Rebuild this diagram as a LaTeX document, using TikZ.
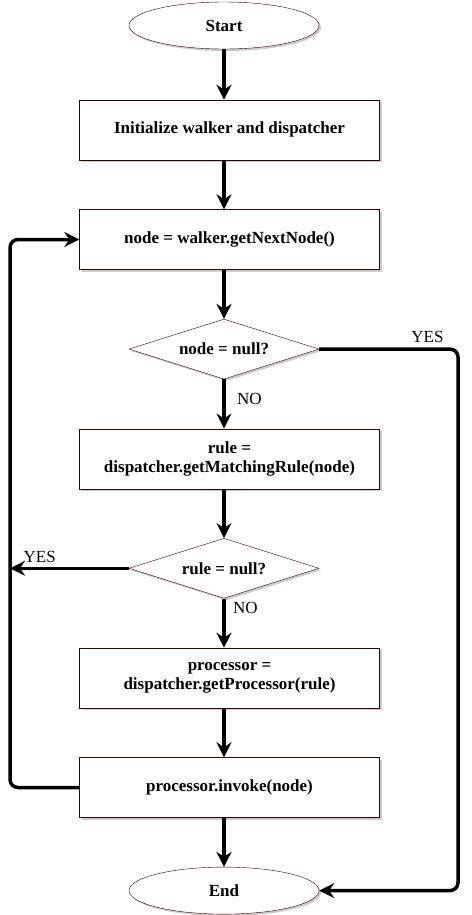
\documentclass[tikz,border=0pt]{standalone}
\usepackage{fontspec}
\setmainfont{Liberation Serif}
\usepackage{tikz}
\usetikzlibrary{positioning, arrows.meta, shapes.geometric, shadows}
\definecolor{edgeline}{RGB}{51,0,0}

\begin{document}
\begin{tikzpicture}[
    x=1pt, y=-1pt,
    shade/.style={drop shadow={shadow xshift=2pt, shadow yshift=-2pt, opacity=0.2, fill=black}},
    terminal/.style={ellipse, draw=edgeline, fill=white, shade, minimum width=190pt, minimum height=47pt, inner sep=0pt, font=\fontsize{17}{19}\selectfont\bfseries},
    process/.style={rectangle, draw=edgeline, fill=white, shade, minimum width=300pt, minimum height=60pt, align=center, font=\fontsize{17}{19}\selectfont\bfseries},
    decision/.style={diamond, aspect=3.2, draw=edgeline, fill=white, shade, minimum width=190pt, minimum height=60pt, inner sep=0pt, font=\fontsize{17}{19}\selectfont\bfseries},
    arrow/.style={-{Stealth[length=15pt, width=15pt, inset=5pt]}, line width=3.5pt, rounded corners=8pt},
    answer/.style={font=\fontsize{17}{19}\selectfont}
]
\useasboundingbox (0,0) rectangle (471,915);

% ===== main column =====
\node[terminal] (start) at (224,25.5) {Start};
\node[process, below=50.5pt of start, xshift=5.5pt] (init) {Initialize walker and dispatcher};
\node[process, below=49.2pt of init] (getnext) {node = walker.getNextNode()};
\node[decision, below=49.2pt of getnext, xshift=-5.5pt] (nodenull) {node = null?};
\node[process, below=49.2pt of nodenull, xshift=5.5pt] (getrule) {rule =\\dispatcher.getMatchingRule(node)};
\node[decision, below=49.2pt of getrule, xshift=-5.5pt] (rulenull) {rule = null?};
\node[process, below=49.2pt of rulenull, xshift=5.5pt] (getproc) {processor =\\dispatcher.getProcessor(rule)};
\node[process, below=49.2pt of getproc] (invoke) {processor.invoke(node)};
\node[terminal, below=49.2pt of invoke, xshift=-5.5pt] (end) {End};

% rails for the side paths
\coordinate (leftrail) at (10,0);
\coordinate (rightrail) at (458,0);

% ===== arrows =====
\draw[arrow] (start) -- (start |- init.north);
\draw[arrow] (start |- init.south) -- (start |- getnext.north);
\draw[arrow] (nodenull |- getnext.south) -- (nodenull);
\draw[arrow] (nodenull) -- node[answer, right=8pt, pos=0.4] {NO} (nodenull |- getrule.north);
\draw[arrow] (rulenull |- getrule.south) -- (rulenull);
\draw[arrow] (rulenull) -- node[answer, right=4pt, pos=0.2] {NO} (rulenull |- getproc.north);
\draw[arrow] (end |- getproc.south) -- (end |- invoke.north);
\draw[arrow] (end |- invoke.south) -- (end);

% loops
\draw[arrow] (invoke.west) -| (leftrail |- getnext.west) -- (getnext.west);
\draw[arrow] (rulenull.west) -- node[answer, above=1pt, pos=0.75] {YES} (leftrail |- rulenull.west);
\draw[arrow] (nodenull.east) -| node[answer, above=1pt, pos=0.39] {YES} (rightrail |- end.east) -- (end.east);

\end{tikzpicture}
\end{document}
